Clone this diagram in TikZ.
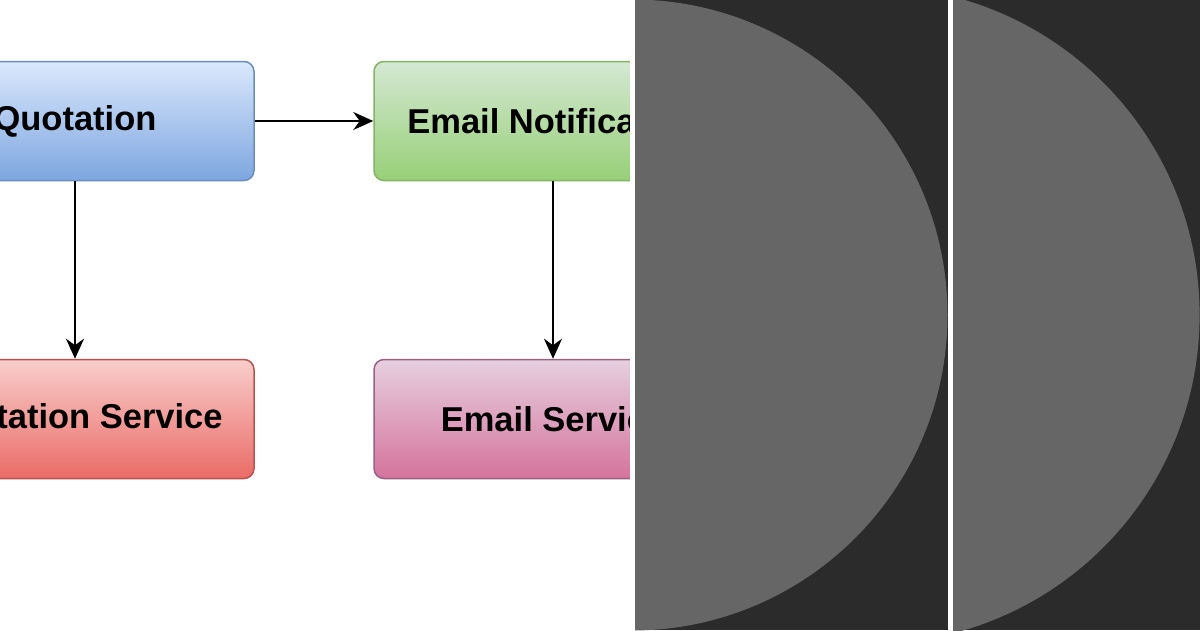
\documentclass[tikz,border=0pt]{standalone}
\usepackage{fontspec}
\setmainfont{Liberation Sans}
\usetikzlibrary{arrows.meta}
\definecolor{bt}{HTML}{DAE8FC}\definecolor{bb}{HTML}{7EA6E0}\definecolor{bd}{HTML}{6C8EBF}
\definecolor{gt}{HTML}{D5E8D4}\definecolor{gb}{HTML}{97D077}\definecolor{gd}{HTML}{82B366}
\definecolor{rt}{HTML}{F8CECC}\definecolor{rb}{HTML}{EA6B66}\definecolor{rd}{HTML}{B85450}
\definecolor{pt}{HTML}{E6D0DE}\definecolor{pb}{HTML}{D5739D}\definecolor{pd}{HTML}{996185}
\begin{document}
\begin{tikzpicture}[x=1pt,y=-1pt,
  box/.style={rounded corners=10pt,line width=1.5pt,minimum width=358pt,minimum height=119pt,font=\bfseries\fontsize{34.5}{40}\selectfont,inner sep=0pt},
  arr/.style={line width=2.2pt,-{Stealth[length=20pt,width=18pt]}}]
\useasboundingbox (0,0) rectangle (1200,630);
\fill[white] (0,0) rectangle (633,630);
\begin{scope}
\clip (0,0) rectangle (630,630);
\node[box,draw=bd,top color=bt,bottom color=bb] (q) at (75,121) {Quotation};
\node[box,draw=gd,top color=gt,bottom color=gb] (en) at (553,121) {Email Notification};
\node[box,draw=rd,top color=rt,bottom color=rb] (qs) at (75,419) {Quotation Service};
\node[box,draw=pd,top color=pt,bottom color=pb] (es) at (553,419) {Email Service};
\draw[arr] (q.east) -- (en.west);
\draw[arr] (q.south) -- (qs.north);
\draw[arr] (en.south) -- (es.north);
\end{scope}
\fill[white] (630,0) rectangle (635,630);
\fill[black!83] (635,0) rectangle (948,630);
\fill[black!83] (953,0) rectangle (1200,630);
\begin{scope}
\clip (635,0) rectangle (948,630);
\fill[black!60] (632,315) circle[radius=315.5];
\end{scope}
\begin{scope}
\clip (953,0) rectangle (1200,630);
\fill[black!60] (871,315) circle[radius=328.6];
\end{scope}
\end{tikzpicture}
\end{document}
